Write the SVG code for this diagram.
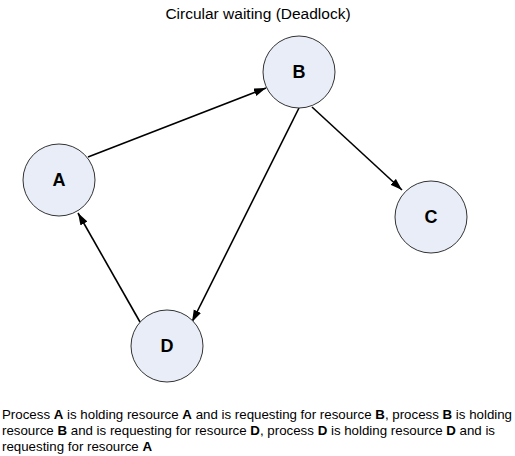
<svg xmlns="http://www.w3.org/2000/svg" width="515" height="456" viewBox="0 0 515 456">
<style>
.node{fill:#e8edf7;stroke:#333;stroke-width:1}
.lbl{font-family:"Liberation Sans",Arial,sans-serif;font-weight:bold;font-size:18px;fill:#000;text-anchor:middle}
.edge{stroke:#000;stroke-width:1.6;fill:none;marker-end:url(#arr)}
.txt{font-family:"Liberation Sans",Arial,sans-serif;font-size:13.3px;fill:#000}
</style>
<defs>
<marker id="arr" markerUnits="userSpaceOnUse" markerWidth="13" markerHeight="9" refX="12" refY="4" orient="auto">
<path d="M0,0 L12,4 L0,8 z" fill="#000"/>
</marker>
</defs>
<rect width="515" height="456" fill="#fff"/>
<text x="258" y="19" class="txt" style="font-size:15.5px" text-anchor="middle">Circular waiting (Deadlock)</text>
<g id="connectors">
<line class="edge" x1="88" y1="157" x2="266" y2="88"/>
<line class="edge" x1="312" y1="107" x2="402" y2="190"/>
<line class="edge" x1="299" y1="108" x2="192" y2="322"/>
<line class="edge" x1="140" y1="322" x2="78" y2="213"/>
</g>
<g id="node-A"><circle class="node" cx="59" cy="180" r="36"/><text class="lbl" x="59" y="186">A</text></g>
<g id="node-B"><circle class="node" cx="299" cy="72" r="36"/><text class="lbl" x="299" y="78">B</text></g>
<g id="node-C"><circle class="node" cx="431" cy="217" r="36"/><text class="lbl" x="431" y="223">C</text></g>
<g id="node-D"><circle class="node" cx="167" cy="346" r="36"/><text class="lbl" x="167" y="352">D</text></g>
<text class="txt" x="2" y="419">Process <tspan font-weight="bold">A</tspan> is holding resource <tspan font-weight="bold">A</tspan> and is requesting for resource <tspan font-weight="bold">B</tspan>, process <tspan font-weight="bold">B</tspan> is holding</text>
<text class="txt" x="2" y="435">resource <tspan font-weight="bold">B</tspan> and is requesting for resource <tspan font-weight="bold">D</tspan>, process <tspan font-weight="bold">D</tspan> is holding resource <tspan font-weight="bold">D</tspan> and is</text>
<text class="txt" x="2" y="451">requesting for resource <tspan font-weight="bold">A</tspan></text>
</svg>
